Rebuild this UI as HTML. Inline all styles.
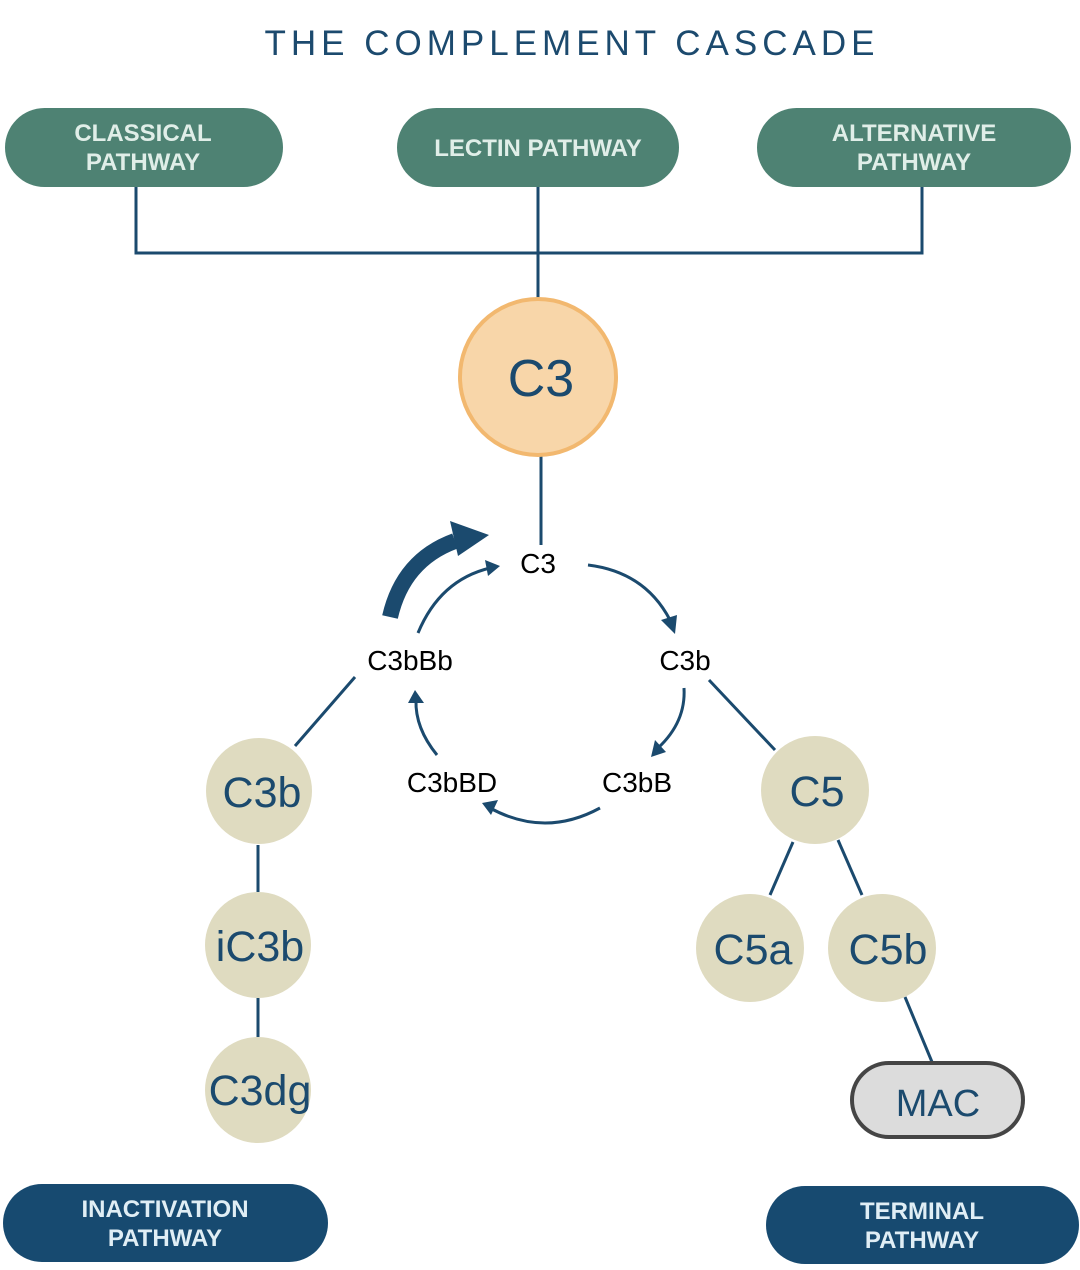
<!DOCTYPE html>
<html><head><meta charset="utf-8"><style>
html,body{margin:0;padding:0;background:#fff;}
svg{display:block;}
</style></head><body>
<svg width="1080" height="1270" viewBox="0 0 1080 1270" xmlns="http://www.w3.org/2000/svg">
<text x="572" y="55" text-anchor="middle" font-family="Liberation Sans, sans-serif" font-size="35" letter-spacing="5" fill="#1c4a6e">THE COMPLEMENT CASCADE</text>

<g fill="#4e8273">
<rect x="5" y="108" width="278" height="79" rx="39.5"/>
<rect x="397" y="108" width="282" height="79" rx="39.5"/>
<rect x="757" y="108" width="314" height="79" rx="39.5"/>
</g>
<g font-family="Liberation Sans, sans-serif" font-weight="bold" font-size="24" fill="#e0eee8" text-anchor="middle">
<text x="143" y="141">CLASSICAL</text><text x="143" y="170">PATHWAY</text>
<text x="538" y="156">LECTIN PATHWAY</text>
<text x="914" y="141">ALTERNATIVE</text><text x="914" y="170">PATHWAY</text>
</g>

<g stroke="#1b4a6e" stroke-width="3" fill="none">
<path d="M136,187 V253 H922 V187"/>
<path d="M538,187 V300"/>
<path d="M541,455 V545"/>
<path d="M355,677 L295,746"/>
<path d="M258,845 V892"/>
<path d="M258,998 V1037"/>
<path d="M709,680 L775,750"/>
<path d="M793,842 L770,895"/>
<path d="M838,840 L862,895"/>
<path d="M905,997 L932,1062"/>
</g>

<circle cx="538" cy="377" r="78" fill="#f8d6a9" stroke="#f2b86f" stroke-width="4"/>
<text x="541" y="396" text-anchor="middle" font-family="Liberation Sans, sans-serif" font-size="52" fill="#1b4a6e">C3</text>

<g stroke="#1b4a6e" stroke-width="3" fill="none">
<path d="M588,565 Q645,572 670,620"/>
<path d="M684,688 Q686,722 658,748"/>
<path d="M600,808 Q545,838 490,808"/>
<path d="M437,755 Q415,728 416,700"/>
<path d="M418,633 Q440,580 490,568"/>
<path d="M390,617 Q403,560 455,541" stroke-width="16"/>
</g>
<g fill="#1b4a6e">
<polygon points="675,634 661,620 677,615"/>
<polygon points="651,757 655,740 666,752"/>
<polygon points="482,803 498,800 491,815"/>
<polygon points="415,690 408,703 424,703"/>
<polygon points="500,566 485,560 488,576"/>
<polygon points="489,535 450,521 458,556"/>
</g>
<g font-family="Liberation Sans, sans-serif" font-size="28" fill="#000" text-anchor="middle">
<text x="538" y="573">C3</text>
<text x="685" y="670">C3b</text>
<text x="637" y="792">C3bB</text>
<text x="452" y="792">C3bBD</text>
<text x="410" y="670">C3bBb</text>
</g>

<g fill="#dfdbc0">
<circle cx="259" cy="791" r="53"/>
<circle cx="258" cy="945" r="53"/>
<circle cx="258" cy="1090" r="53"/>
<circle cx="815" cy="790" r="54"/>
<circle cx="750" cy="948" r="54"/>
<circle cx="882" cy="948" r="54"/>
</g>
<g font-family="Liberation Sans, sans-serif" font-size="43" fill="#1b4a6e" text-anchor="middle">
<text x="262" y="807">C3b</text>
<text x="260" y="961">iC3b</text>
<text x="260" y="1105">C3dg</text>
<text x="817" y="806">C5</text>
<text x="753" y="964">C5a</text>
<text x="888" y="964">C5b</text>
</g>

<rect x="852" y="1063" width="171" height="74" rx="37" fill="#dcdcdc" stroke="#454545" stroke-width="4"/>
<text x="938" y="1116" text-anchor="middle" font-family="Liberation Sans, sans-serif" font-size="38" fill="#1b4a6e">MAC</text>

<rect x="3" y="1184" width="325" height="78" rx="39" fill="#174a70"/>
<rect x="766" y="1186" width="313" height="78" rx="39" fill="#174a70"/>
<g font-family="Liberation Sans, sans-serif" font-weight="bold" font-size="24" fill="#e0eef5" text-anchor="middle">
<text x="165" y="1217">INACTIVATION</text><text x="165" y="1246">PATHWAY</text>
<text x="922" y="1219">TERMINAL</text><text x="922" y="1248">PATHWAY</text>
</g>
</svg>
</body></html>
